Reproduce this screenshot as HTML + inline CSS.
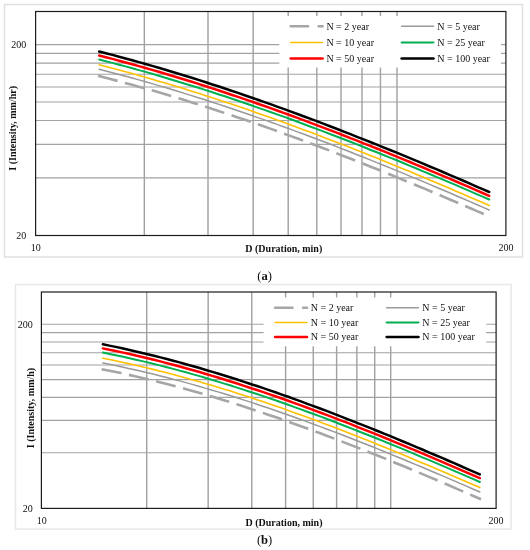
<!DOCTYPE html>
<html><head><meta charset="utf-8"><title>IDF curves</title>
<style>
html,body{margin:0;padding:0;background:#fff}
svg{display:block}
text{font-family:"Liberation Serif",serif;font-size:10px;fill:#111}
.cap{font-size:12.6px}
</style></head><body>
<svg width="530" height="550" viewBox="0 0 530 550">
<rect width="530" height="550" fill="#fff"/>
<g>
<rect x="4.5" y="4.5" width="518.0" height="252.5" fill="#fff" stroke="#e0e0e0" stroke-width="1.5"/>
<path d="M144.34 11.5V235.5M208.00 11.5V235.5M253.16 11.5V235.5M288.19 11.5V235.5M316.81 11.5V235.5M341.01 11.5V235.5M361.97 11.5V235.5M380.46 11.5V235.5M397.00 11.5V235.5" stroke="#a0a0a0" stroke-width="1.4" fill="none"/>
<path d="M35.6 177.92H505.9M35.6 144.35H505.9M35.6 120.53H505.9M35.6 102.05H505.9M35.6 86.96H505.9M35.6 74.19H505.9M35.6 63.14H505.9M35.6 53.38H505.9M35.6 44.66H505.9" stroke="#a2a2a2" stroke-width="1.1" fill="none"/>
<rect x="279.3" y="16" width="221.7" height="51.5" fill="#fff"/>
<path d="M98.0 75.8 L104.7 77.5 L111.3 79.2 L118.0 81.0 L124.6 82.8 L131.3 84.6 L137.9 86.4 L144.6 88.3 L151.2 90.2 L157.9 92.1 L164.5 94.1 L171.2 96.1 L177.8 98.1 L184.5 100.1 L191.1 102.2 L197.8 104.3 L204.4 106.4 L211.1 108.5 L217.7 110.7 L224.4 112.9 L231.0 115.1 L237.7 117.4 L244.3 119.6 L251.0 121.9 L257.6 124.2 L264.3 126.5 L270.9 128.9 L277.6 131.3 L284.2 133.7 L290.9 136.1 L297.5 138.5 L304.2 141.0 L310.8 143.5 L317.5 146.0 L324.1 148.5 L330.8 151.0 L337.4 153.6 L344.1 156.2 L350.7 158.8 L357.4 161.4 L364.0 164.0 L370.7 166.7 L377.3 169.3 L384.0 172.0 L390.6 174.7 L397.3 177.4 L403.9 180.2 L410.6 182.9 L417.2 185.7 L423.9 188.4 L430.5 191.2 L437.2 194.0 L443.8 196.9 L450.5 199.7 L457.1 202.5 L463.8 205.4 L470.4 208.3 L477.1 211.1 L483.7 214.0 L490.4 217.0" stroke="#a6a6a6" stroke-width="2.6" fill="none" stroke-linejoin="round" stroke-dasharray="20.2 7.66"/>
<path d="M99.2 69.2 L105.8 70.9 L112.4 72.7 L119.0 74.4 L125.6 76.2 L132.3 78.0 L138.9 79.9 L145.5 81.7 L152.1 83.6 L158.7 85.6 L165.3 87.5 L171.9 89.5 L178.5 91.5 L185.1 93.6 L191.7 95.6 L198.4 97.7 L205.0 99.8 L211.6 102.0 L218.2 104.1 L224.8 106.3 L231.4 108.5 L238.0 110.7 L244.6 113.0 L251.2 115.3 L257.8 117.6 L264.5 119.9 L271.1 122.3 L277.7 124.6 L284.3 127.0 L290.9 129.4 L297.5 131.9 L304.1 134.3 L310.7 136.8 L317.3 139.3 L323.9 141.8 L330.6 144.3 L337.2 146.9 L343.8 149.5 L350.4 152.0 L357.0 154.7 L363.6 157.3 L370.2 159.9 L376.8 162.6 L383.4 165.3 L390.0 167.9 L396.7 170.6 L403.3 173.4 L409.9 176.1 L416.5 178.9 L423.1 181.6 L429.7 184.4 L436.3 187.2 L442.9 190.0 L449.5 192.8 L456.1 195.7 L462.8 198.5 L469.4 201.4 L476.0 204.2 L482.6 207.1 L489.2 210.0" stroke="#999" stroke-width="1.5" fill="none" stroke-linecap="round" stroke-linejoin="round"/>
<path d="M99.2 64.8 L105.8 66.5 L112.4 68.3 L119.0 70.0 L125.6 71.8 L132.3 73.6 L138.9 75.5 L145.5 77.3 L152.1 79.2 L158.7 81.2 L165.3 83.1 L171.9 85.1 L178.5 87.1 L185.1 89.1 L191.7 91.2 L198.4 93.3 L205.0 95.4 L211.6 97.5 L218.2 99.7 L224.8 101.9 L231.4 104.1 L238.0 106.3 L244.6 108.6 L251.2 110.8 L257.8 113.2 L264.5 115.5 L271.1 117.8 L277.7 120.2 L284.3 122.6 L290.9 125.0 L297.5 127.4 L304.1 129.9 L310.7 132.3 L317.3 134.8 L323.9 137.4 L330.6 139.9 L337.2 142.4 L343.8 145.0 L350.4 147.6 L357.0 150.2 L363.6 152.8 L370.2 155.4 L376.8 158.1 L383.4 160.8 L390.0 163.5 L396.7 166.2 L403.3 168.9 L409.9 171.6 L416.5 174.4 L423.1 177.1 L429.7 179.9 L436.3 182.7 L442.9 185.5 L449.5 188.3 L456.1 191.2 L462.8 194.0 L469.4 196.9 L476.0 199.7 L482.6 202.6 L489.2 205.5" stroke="#ffc000" stroke-width="1.6" fill="none" stroke-linecap="round" stroke-linejoin="round"/>
<path d="M99.2 59.5 L105.8 61.2 L112.4 62.9 L119.0 64.7 L125.6 66.4 L132.3 68.3 L138.9 70.1 L145.5 71.9 L152.1 73.8 L158.7 75.7 L165.3 77.7 L171.9 79.7 L178.5 81.7 L185.1 83.7 L191.7 85.7 L198.4 87.8 L205.0 89.9 L211.6 92.0 L218.2 94.2 L224.8 96.3 L231.4 98.5 L238.0 100.8 L244.6 103.0 L251.2 105.3 L257.8 107.6 L264.5 109.9 L271.1 112.2 L277.7 114.6 L284.3 116.9 L290.9 119.3 L297.5 121.8 L304.1 124.2 L310.7 126.7 L317.3 129.1 L323.9 131.6 L330.6 134.2 L337.2 136.7 L343.8 139.3 L350.4 141.8 L357.0 144.4 L363.6 147.0 L370.2 149.7 L376.8 152.3 L383.4 155.0 L390.0 157.6 L396.7 160.3 L403.3 163.0 L409.9 165.8 L416.5 168.5 L423.1 171.3 L429.7 174.0 L436.3 176.8 L442.9 179.6 L449.5 182.4 L456.1 185.2 L462.8 188.1 L469.4 190.9 L476.0 193.8 L482.6 196.6 L489.2 199.5" stroke="#00b050" stroke-width="2.0" fill="none" stroke-linecap="round" stroke-linejoin="round"/>
<path d="M99.2 55.5 L105.8 57.2 L112.4 58.9 L119.0 60.7 L125.6 62.5 L132.3 64.3 L138.9 66.1 L145.5 68.0 L152.1 69.9 L158.7 71.8 L165.3 73.7 L171.9 75.7 L178.5 77.7 L185.1 79.8 L191.7 81.8 L198.4 83.9 L205.0 86.0 L211.6 88.1 L218.2 90.3 L224.8 92.5 L231.4 94.7 L238.0 96.9 L244.6 99.1 L251.2 101.4 L257.8 103.7 L264.5 106.0 L271.1 108.4 L277.7 110.7 L284.3 113.1 L290.9 115.5 L297.5 117.9 L304.1 120.4 L310.7 122.9 L317.3 125.3 L323.9 127.8 L330.6 130.4 L337.2 132.9 L343.8 135.5 L350.4 138.1 L357.0 140.7 L363.6 143.3 L370.2 145.9 L376.8 148.5 L383.4 151.2 L390.0 153.9 L396.7 156.6 L403.3 159.3 L409.9 162.0 L416.5 164.8 L423.1 167.5 L429.7 170.3 L436.3 173.1 L442.9 175.9 L449.5 178.7 L456.1 181.5 L462.8 184.4 L469.4 187.2 L476.0 190.1 L482.6 193.0 L489.2 195.9" stroke="#ff0000" stroke-width="2.5" fill="none" stroke-linecap="round" stroke-linejoin="round"/>
<path d="M99.2 51.5 L105.8 53.2 L112.4 54.9 L119.0 56.7 L125.6 58.5 L132.3 60.3 L138.9 62.1 L145.5 64.0 L152.1 65.9 L158.7 67.8 L165.3 69.8 L171.9 71.8 L178.5 73.8 L185.1 75.8 L191.7 77.8 L198.4 79.9 L205.0 82.0 L211.6 84.2 L218.2 86.3 L224.8 88.5 L231.4 90.7 L238.0 92.9 L244.6 95.2 L251.2 97.5 L257.8 99.8 L264.5 102.1 L271.1 104.4 L277.7 106.8 L284.3 109.2 L290.9 111.6 L297.5 114.0 L304.1 116.5 L310.7 118.9 L317.3 121.4 L323.9 123.9 L330.6 126.5 L337.2 129.0 L343.8 131.6 L350.4 134.2 L357.0 136.8 L363.6 139.4 L370.2 142.0 L376.8 144.7 L383.4 147.3 L390.0 150.0 L396.7 152.7 L403.3 155.4 L409.9 158.2 L416.5 160.9 L423.1 163.7 L429.7 166.5 L436.3 169.2 L442.9 172.0 L449.5 174.9 L456.1 177.7 L462.8 180.5 L469.4 183.4 L476.0 186.3 L482.6 189.1 L489.2 192.0" stroke="#000" stroke-width="2.5" fill="none" stroke-linecap="round" stroke-linejoin="round"/>
<rect x="35.6" y="11.5" width="470.30" height="224.00" fill="none" stroke="#1c1c1c" stroke-width="1.2"/>
<path d="M290.7 26.3H322.6" stroke="#a6a6a6" stroke-width="2.6" stroke-linecap="round" stroke-dasharray="17.4 10.6"/>
<text x="326.4" y="29.6">N = 2 year</text>
<path d="M401.6 26.3H433.5" stroke="#999" stroke-width="1.5" stroke-linecap="round"/>
<text x="437.3" y="29.6">N = 5 year</text>
<path d="M290.7 42.5H322.6" stroke="#ffc000" stroke-width="1.6" stroke-linecap="round"/>
<text x="326.4" y="45.8">N = 10 year</text>
<path d="M401.6 42.5H433.5" stroke="#00b050" stroke-width="2.0" stroke-linecap="round"/>
<text x="437.3" y="45.8">N = 25 year</text>
<path d="M290.7 58.5H322.6" stroke="#ff0000" stroke-width="2.5" stroke-linecap="round"/>
<text x="326.4" y="61.8">N = 50 year</text>
<path d="M401.6 58.5H433.5" stroke="#000" stroke-width="2.5" stroke-linecap="round"/>
<text x="437.3" y="61.8">N = 100 year</text>
<text x="26.3" y="48.1" text-anchor="end">200</text>
<text x="26.3" y="238.7" text-anchor="end">20</text>
<text x="35.7" y="250.8" text-anchor="middle">10</text>
<text x="505.9" y="250.8" text-anchor="middle">200</text>
<text x="283.8" y="252.4" text-anchor="middle" font-weight="bold">D (Duration, min)</text>
<text transform="translate(15.9 128.3) rotate(-90)" text-anchor="middle" font-weight="bold">I (Intensity, mm/hr)</text>
</g>
<text class="cap" x="264.6" y="280" text-anchor="middle">(<tspan font-weight="bold">a</tspan>)</text>
<g>
<rect x="15.5" y="284.5" width="495.6" height="244.60000000000002" fill="#fff" stroke="#e8e8e8" stroke-width="1.5"/>
<path d="M146.69 292V508.4M208.16 292V508.4M251.78 292V508.4M285.61 292V508.4M313.25 292V508.4M336.62 292V508.4M356.86 292V508.4M374.72 292V508.4M390.69 292V508.4" stroke="#a0a0a0" stroke-width="1.4" fill="none"/>
<path d="M41.4 452.73H496.1M41.4 420.36H496.1M41.4 397.39H496.1M41.4 379.58H496.1M41.4 365.02H496.1M41.4 352.72H496.1M41.4 342.05H496.1M41.4 332.65H496.1M41.4 324.24H496.1" stroke="#a2a2a2" stroke-width="1.1" fill="none"/>
<rect x="263.6" y="297.5" width="222.59999999999997" height="48.80000000000001" fill="#fff"/>
<path d="M101.7 369.2 L108.1 370.5 L114.6 371.8 L121.0 373.1 L127.4 374.5 L133.8 376.0 L140.3 377.5 L146.7 379.0 L153.1 380.6 L159.6 382.2 L166.0 383.8 L172.4 385.5 L178.8 387.2 L185.3 388.9 L191.7 390.7 L198.1 392.6 L204.6 394.4 L211.0 396.3 L217.4 398.3 L223.8 400.2 L230.3 402.2 L236.7 404.2 L243.1 406.3 L249.6 408.4 L256.0 410.5 L262.4 412.7 L268.8 414.9 L275.3 417.1 L281.7 419.3 L288.1 421.6 L294.6 423.9 L301.0 426.2 L307.4 428.5 L313.9 430.9 L320.3 433.3 L326.7 435.7 L333.1 438.1 L339.6 440.6 L346.0 443.1 L352.4 445.6 L358.9 448.1 L365.3 450.7 L371.7 453.2 L378.1 455.8 L384.6 458.4 L391.0 461.0 L397.4 463.7 L403.9 466.3 L410.3 469.0 L416.7 471.7 L423.1 474.4 L429.6 477.1 L436.0 479.8 L442.4 482.6 L448.9 485.3 L455.3 488.1 L461.7 490.9 L468.1 493.7 L474.6 496.5 L481.0 499.3" stroke="#a6a6a6" stroke-width="2.6" fill="none" stroke-linejoin="round" stroke-dasharray="20.2 7.66"/>
<path d="M102.9 363.0 L109.3 364.3 L115.7 365.6 L122.1 367.0 L128.5 368.4 L134.8 369.8 L141.2 371.3 L147.6 372.8 L154.0 374.3 L160.4 375.9 L166.8 377.5 L173.2 379.2 L179.6 380.9 L185.9 382.6 L192.3 384.4 L198.7 386.2 L205.1 388.1 L211.5 390.0 L217.9 391.9 L224.3 393.8 L230.7 395.8 L237.1 397.8 L243.4 399.9 L249.8 401.9 L256.2 404.0 L262.6 406.2 L269.0 408.3 L275.4 410.5 L281.8 412.7 L288.2 415.0 L294.5 417.2 L300.9 419.5 L307.3 421.9 L313.7 424.2 L320.1 426.6 L326.5 429.0 L332.9 431.4 L339.3 433.8 L345.6 436.3 L352.0 438.8 L358.4 441.3 L364.8 443.8 L371.2 446.3 L377.6 448.9 L384.0 451.5 L390.4 454.1 L396.8 456.7 L403.1 459.3 L409.5 462.0 L415.9 464.6 L422.3 467.3 L428.7 470.0 L435.1 472.7 L441.5 475.4 L447.9 478.1 L454.2 480.9 L460.6 483.6 L467.0 486.4 L473.4 489.2 L479.8 492.0" stroke="#999" stroke-width="1.5" fill="none" stroke-linecap="round" stroke-linejoin="round"/>
<path d="M102.9 358.2 L109.3 359.5 L115.7 360.8 L122.1 362.2 L128.5 363.6 L134.8 365.0 L141.2 366.5 L147.6 368.0 L154.0 369.6 L160.4 371.2 L166.8 372.8 L173.2 374.5 L179.6 376.2 L185.9 377.9 L192.3 379.7 L198.7 381.5 L205.1 383.4 L211.5 385.3 L217.9 387.2 L224.3 389.2 L230.7 391.1 L237.1 393.2 L243.4 395.2 L249.8 397.3 L256.2 399.4 L262.6 401.5 L269.0 403.7 L275.4 405.9 L281.8 408.1 L288.2 410.4 L294.5 412.7 L300.9 415.0 L307.3 417.3 L313.7 419.6 L320.1 422.0 L326.5 424.4 L332.9 426.8 L339.3 429.3 L345.6 431.8 L352.0 434.2 L358.4 436.8 L364.8 439.3 L371.2 441.8 L377.6 444.4 L384.0 447.0 L390.4 449.6 L396.8 452.2 L403.1 454.8 L409.5 457.5 L415.9 460.2 L422.3 462.9 L428.7 465.5 L435.1 468.3 L441.5 471.0 L447.9 473.7 L454.2 476.5 L460.6 479.2 L467.0 482.0 L473.4 484.8 L479.8 487.6" stroke="#ffc000" stroke-width="1.6" fill="none" stroke-linecap="round" stroke-linejoin="round"/>
<path d="M102.9 352.6 L109.3 353.9 L115.7 355.2 L122.1 356.6 L128.5 358.0 L134.8 359.4 L141.2 360.9 L147.6 362.4 L154.0 364.0 L160.4 365.6 L166.8 367.2 L173.2 368.9 L179.6 370.6 L185.9 372.3 L192.3 374.1 L198.7 375.9 L205.1 377.8 L211.5 379.7 L217.9 381.6 L224.3 383.6 L230.7 385.5 L237.1 387.6 L243.4 389.6 L249.8 391.7 L256.2 393.8 L262.6 395.9 L269.0 398.1 L275.4 400.3 L281.8 402.5 L288.2 404.8 L294.5 407.1 L300.9 409.4 L307.3 411.7 L313.7 414.0 L320.1 416.4 L326.5 418.8 L332.9 421.2 L339.3 423.7 L345.6 426.2 L352.0 428.6 L358.4 431.2 L364.8 433.7 L371.2 436.2 L377.6 438.8 L384.0 441.4 L390.4 444.0 L396.8 446.6 L403.1 449.2 L409.5 451.9 L415.9 454.6 L422.3 457.3 L428.7 459.9 L435.1 462.7 L441.5 465.4 L447.9 468.1 L454.2 470.9 L460.6 473.6 L467.0 476.4 L473.4 479.2 L479.8 482.0" stroke="#00b050" stroke-width="2.0" fill="none" stroke-linecap="round" stroke-linejoin="round"/>
<path d="M102.9 348.4 L109.3 349.7 L115.7 351.0 L122.1 352.4 L128.5 353.8 L134.8 355.3 L141.2 356.7 L147.6 358.3 L154.0 359.8 L160.4 361.4 L166.8 363.1 L173.2 364.8 L179.6 366.5 L185.9 368.2 L192.3 370.0 L198.7 371.8 L205.1 373.7 L211.5 375.6 L217.9 377.5 L224.3 379.5 L230.7 381.5 L237.1 383.5 L243.4 385.6 L249.8 387.7 L256.2 389.8 L262.6 391.9 L269.0 394.1 L275.4 396.3 L281.8 398.5 L288.2 400.8 L294.5 403.1 L300.9 405.4 L307.3 407.7 L313.7 410.1 L320.1 412.5 L326.5 414.9 L332.9 417.3 L339.3 419.8 L345.6 422.2 L352.0 424.7 L358.4 427.3 L364.8 429.8 L371.2 432.3 L377.6 434.9 L384.0 437.5 L390.4 440.1 L396.8 442.8 L403.1 445.4 L409.5 448.1 L415.9 450.7 L422.3 453.4 L428.7 456.1 L435.1 458.8 L441.5 461.6 L447.9 464.3 L454.2 467.1 L460.6 469.8 L467.0 472.6 L473.4 475.4 L479.8 478.2" stroke="#ff0000" stroke-width="2.5" fill="none" stroke-linecap="round" stroke-linejoin="round"/>
<path d="M102.9 344.3 L109.3 345.6 L115.7 346.9 L122.1 348.3 L128.5 349.7 L134.8 351.2 L141.2 352.7 L147.6 354.2 L154.0 355.8 L160.4 357.4 L166.8 359.0 L173.2 360.7 L179.6 362.4 L185.9 364.2 L192.3 366.0 L198.7 367.8 L205.1 369.7 L211.5 371.6 L217.9 373.5 L224.3 375.5 L230.7 377.5 L237.1 379.5 L243.4 381.6 L249.8 383.7 L256.2 385.8 L262.6 387.9 L269.0 390.1 L275.4 392.3 L281.8 394.6 L288.2 396.8 L294.5 399.1 L300.9 401.4 L307.3 403.8 L313.7 406.1 L320.1 408.5 L326.5 410.9 L332.9 413.4 L339.3 415.8 L345.6 418.3 L352.0 420.8 L358.4 423.3 L364.8 425.9 L371.2 428.4 L377.6 431.0 L384.0 433.6 L390.4 436.2 L396.8 438.9 L403.1 441.5 L409.5 444.2 L415.9 446.8 L422.3 449.5 L428.7 452.3 L435.1 455.0 L441.5 457.7 L447.9 460.5 L454.2 463.2 L460.6 466.0 L467.0 468.8 L473.4 471.6 L479.8 474.4" stroke="#000" stroke-width="2.5" fill="none" stroke-linecap="round" stroke-linejoin="round"/>
<rect x="41.4" y="292" width="454.70" height="216.40" fill="none" stroke="#1c1c1c" stroke-width="1.2"/>
<path d="M275.1 307.8H307.0" stroke="#a6a6a6" stroke-width="2.6" stroke-linecap="round" stroke-dasharray="17.4 10.6"/>
<text x="310.8" y="311.1">N = 2 year</text>
<path d="M386.6 307.8H418.5" stroke="#999" stroke-width="1.5" stroke-linecap="round"/>
<text x="422.3" y="311.1">N = 5 year</text>
<path d="M275.1 322.5H307.0" stroke="#ffc000" stroke-width="1.6" stroke-linecap="round"/>
<text x="310.8" y="325.8">N = 10 year</text>
<path d="M386.6 322.5H418.5" stroke="#00b050" stroke-width="2.0" stroke-linecap="round"/>
<text x="422.3" y="325.8">N = 25 year</text>
<path d="M275.1 337H307.0" stroke="#ff0000" stroke-width="2.5" stroke-linecap="round"/>
<text x="310.8" y="340.3">N = 50 year</text>
<path d="M386.6 337H418.5" stroke="#000" stroke-width="2.5" stroke-linecap="round"/>
<text x="422.3" y="340.3">N = 100 year</text>
<text x="32.7" y="327.6" text-anchor="end">200</text>
<text x="32.7" y="511.5" text-anchor="end">20</text>
<text x="41.8" y="523.6" text-anchor="middle">10</text>
<text x="495.9" y="523.6" text-anchor="middle">200</text>
<text x="284" y="525.9" text-anchor="middle" font-weight="bold">D (Duration, min)</text>
<text transform="translate(34.3 408) rotate(-90)" text-anchor="middle" font-weight="bold">I (Intensity, mm/h)</text>
</g>
<text class="cap" x="264.6" y="544.4" text-anchor="middle">(<tspan font-weight="bold">b</tspan>)</text>
</svg>
</body></html>
